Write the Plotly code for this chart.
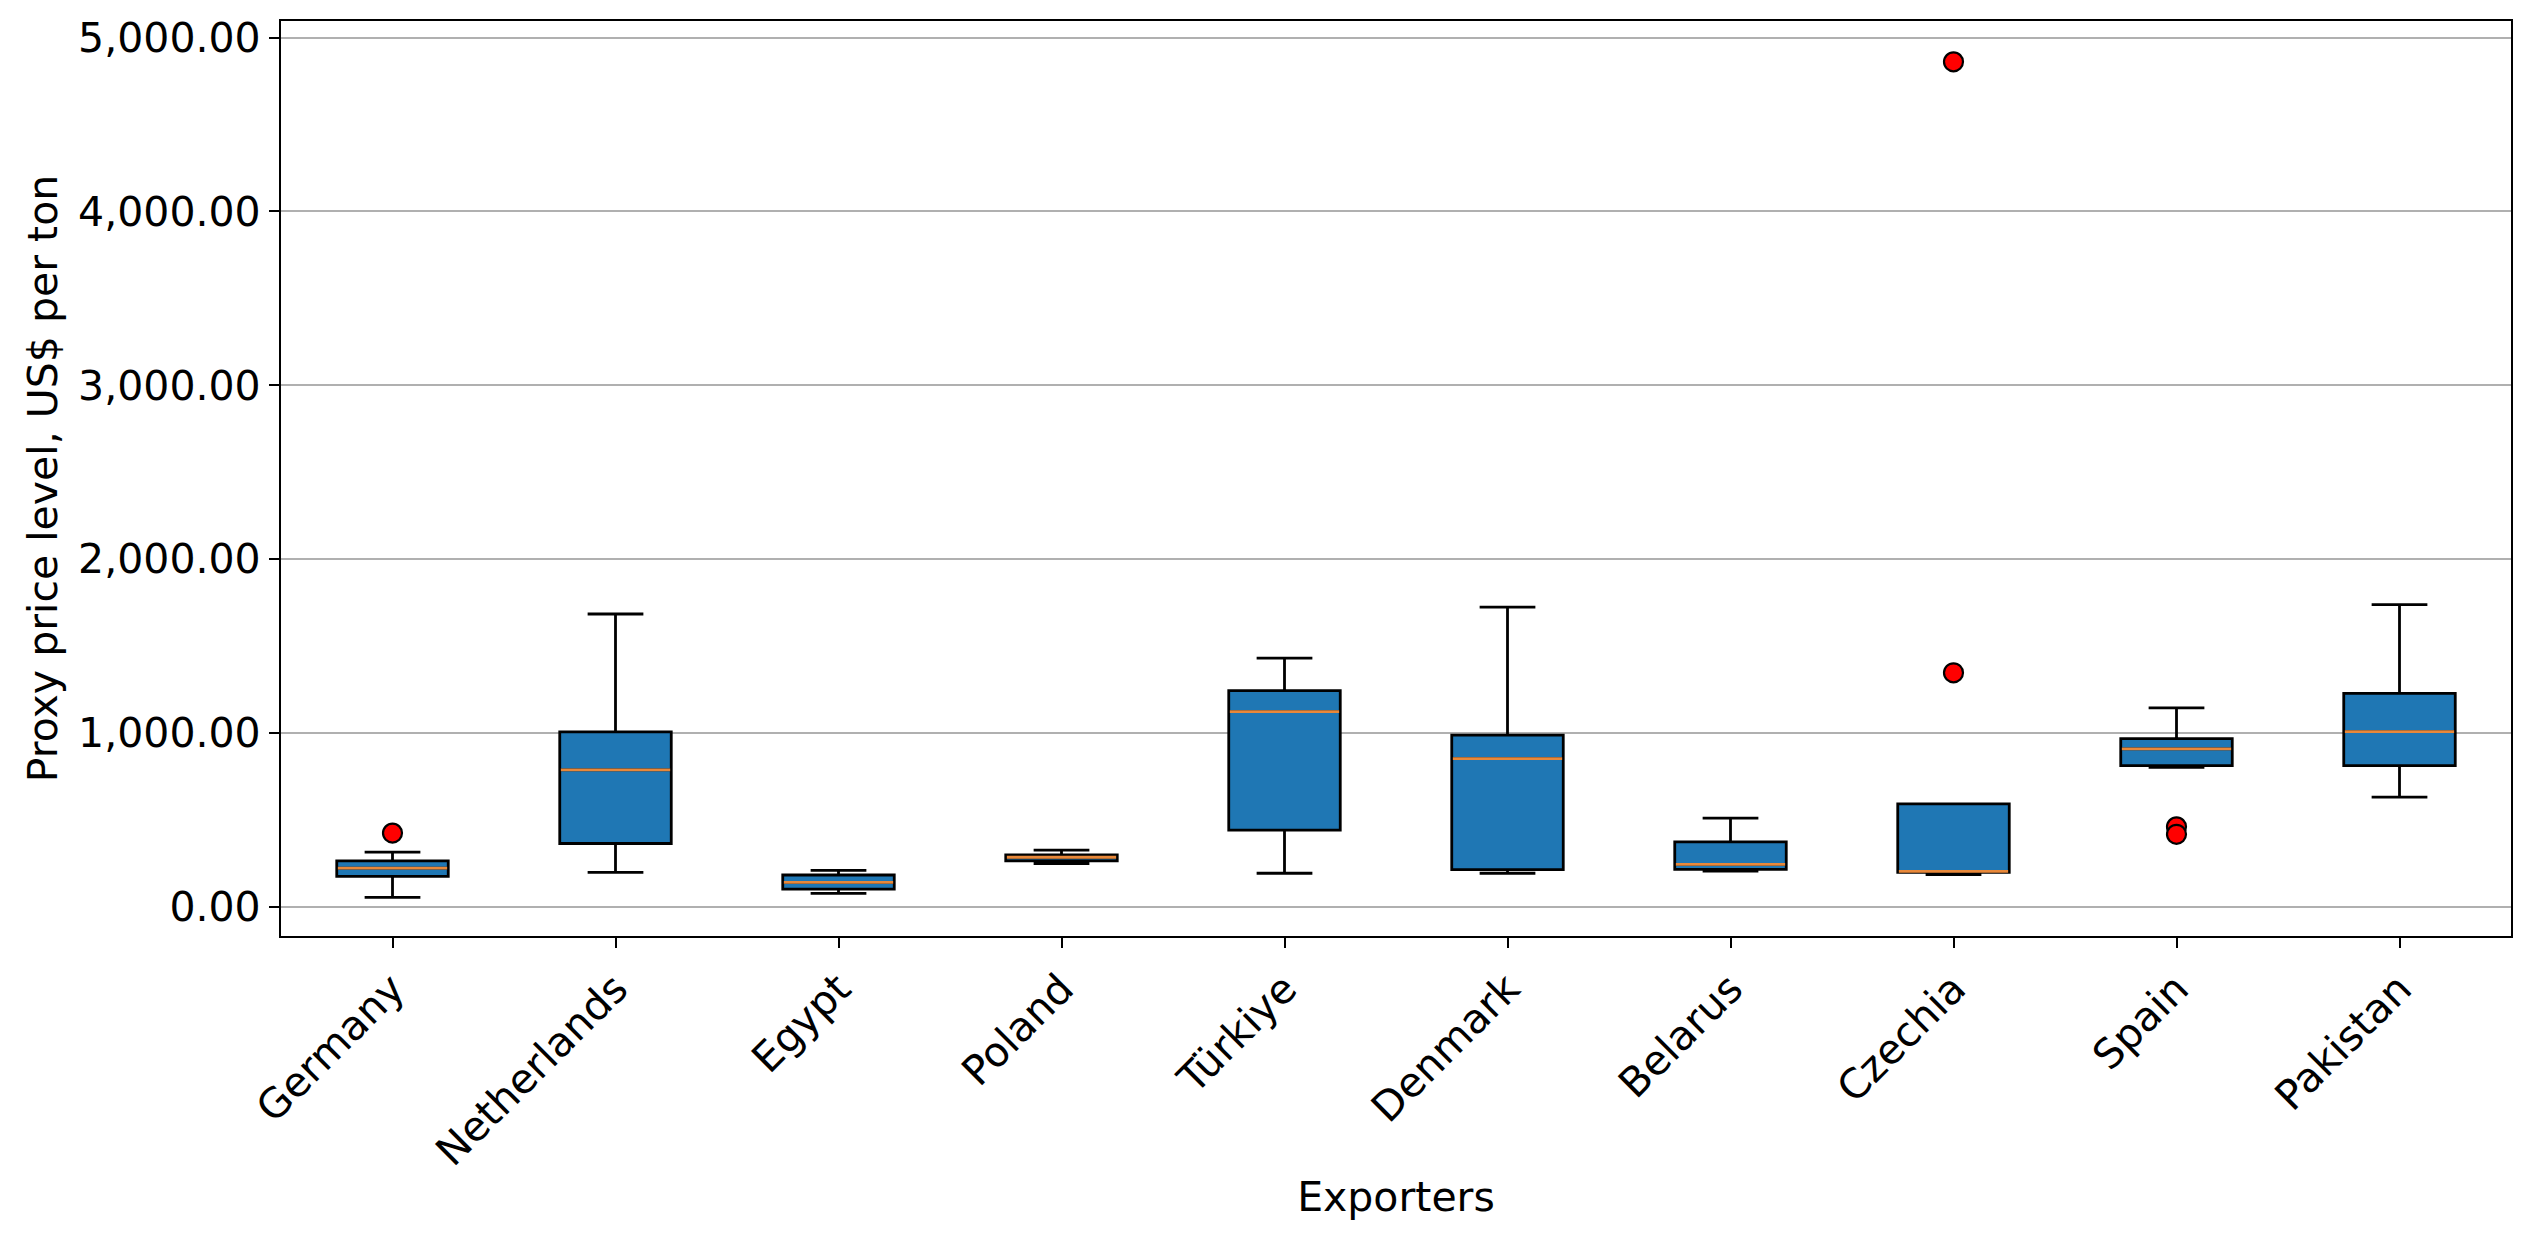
import plotly.graph_objects as go

countries = ["Germany", "Netherlands", "Egypt", "Poland", "Türkiye",
             "Denmark", "Belarus", "Czechia", "Spain", "Pakistan"]
lower_whisker = [54, 198, 77, 249, 193, 193, 206, 185, 802, 631]
q1_values = [175, 364, 102, 264, 441, 214, 215, 198, 812, 812]
median_values = [222, 788, 141, 285, 1123, 852, 244, 204, 908, 1008]
q3_values = [264, 1006, 183, 299, 1243, 987, 373, 592, 967, 1227]
upper_whisker = [314, 1684, 210, 326, 1430, 1724, 510, 592, 1144, 1738]

outlier_country = ["Germany", "Czechia", "Czechia", "Spain", "Spain"]
outlier_value = [424, 4860, 1346, 460, 417]

y_ticks = [0, 1000, 2000, 3000, 4000, 5000]

positions = list(range(1, len(countries) + 1))
FONT = "DejaVu Sans"
FS = 41

fig = go.Figure()
fig.add_trace(go.Box(
    x=positions,
    q1=q1_values, median=median_values, q3=q3_values,
    lowerfence=lower_whisker, upperfence=upper_whisker,
    width=0.5, whiskerwidth=0.5,
    fillcolor="#1f77b4",
    line=dict(color="black", width=2.8),
    boxpoints=False, showlegend=False,
))

# medians in orange
mx, my = [], []
for p, m in zip(positions, median_values):
    mx += [p - 0.245, p + 0.245, None]
    my += [m, m, None]
fig.add_trace(go.Scatter(x=mx, y=my, mode="lines",
                         line=dict(color="#e8883a", width=2.8),
                         showlegend=False, hoverinfo="skip"))

ox = [positions[countries.index(c)] for c in outlier_country]
fig.add_trace(go.Scatter(x=ox, y=outlier_value, mode="markers",
                         marker=dict(color="red", size=19,
                                     line=dict(color="black", width=2.2)),
                         showlegend=False))

fig.update_layout(
    width=2534, height=1243,
    margin=dict(l=281, r=23, t=21, b=307),
    plot_bgcolor="white", paper_bgcolor="white",
    font=dict(family=FONT, size=FS, color="black"),
)
fig.update_xaxes(
    range=[0.5, 10.5], tickmode="array", tickvals=positions, ticktext=countries,
    tickangle=-45, ticks="outside", ticklen=10, tickwidth=2, tickcolor="black",
    showline=True, linecolor="black", linewidth=2.2, mirror=True,
    showgrid=False, zeroline=False,
    title=dict(text="Exporters", font=dict(size=FS, family=FONT), standoff=8),
)
fig.update_yaxes(
    range=[-168, 5095], tickmode="array", tickvals=y_ticks,
    tickformat=",.2f", ticks="outside", ticklen=10, tickwidth=2, tickcolor="black",
    showline=True, linecolor="black", linewidth=2.2, mirror=True,
    showgrid=True, gridcolor="#b0b0b0", gridwidth=2.2, zeroline=False,
    title=dict(text="Proxy price level, US$ per ton", font=dict(size=FS, family=FONT), standoff=8),
)

fig.write_html("out.html")
